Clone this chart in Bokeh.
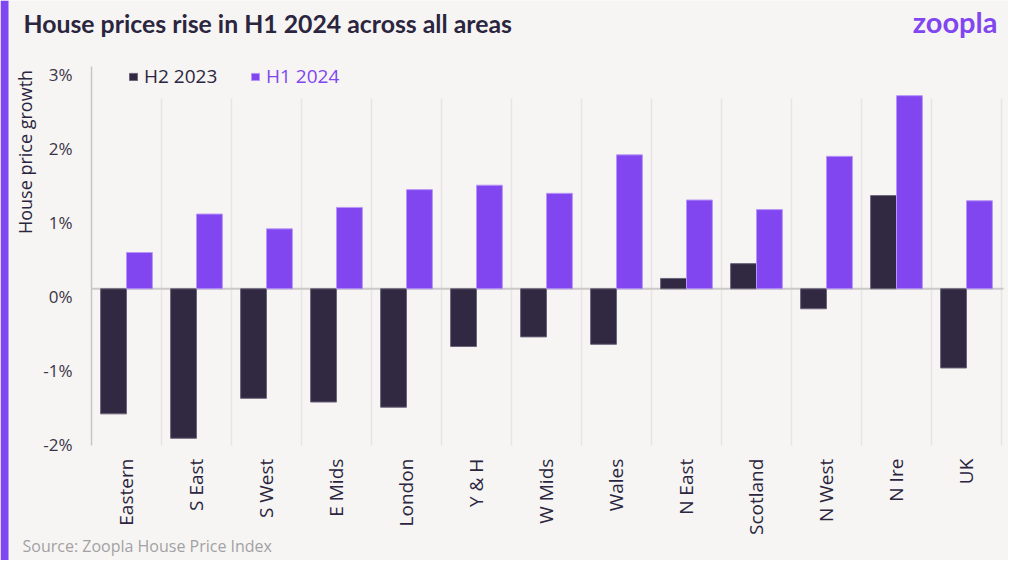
import math
import numpy as np
from bokeh.plotting import figure
from bokeh.models import (ColumnDataSource, Label, Legend, LegendItem,
                          BoxAnnotation, FixedTicker, CustomJSTickFormatter, Range1d)
from bokeh.embed import file_html
from bokeh.resources import INLINE

# ---- data ----
regions = ["Eastern", "S East", "S West", "E Mids", "London", "Y & H", "W Mids",
           "Wales", "N East", "Scotland", "N West", "N Ire", "UK"]
h2_2023 = [-1.69, -2.02, -1.48, -1.53, -1.60, -0.78, -0.65, -0.75, 0.14, 0.34, -0.27, 1.26, -1.07]
h1_2024 = [0.49, 1.01, 0.81, 1.10, 1.34, 1.40, 1.29, 1.81, 1.20, 1.07, 1.79, 2.61, 1.19]
y_ticks = [-2, -1, 0, 1, 2, 3]
title_text = "House prices rise in H1 2024 across all areas"
source_text = "Source: Zoopla House Price Index"
y_label = "House price growth"
series_names = ["H2 2023", "H1 2024"]

BG = "#f6f5f3"
DARK = "#312842"
PURPLE = "#8146f0"
TEXT = "#2b2540"
FONT = "Open Sans"

W, H = 1008, 560
X0 = 91          # canvas x of category axis start
PX_X = 70.0      # px per category
Y0 = 288.3       # canvas y of zero
PX_Y = 74.0      # px per percent
Y_MIN, Y_MAX = -2.12, 3.0
BW = 0.37

idx = np.arange(len(regions)) + 0.5
src = ColumnDataSource(dict(region=regions, xd=idx - BW / 2, xl=idx + BW / 2,
                            h2=h2_2023, h1=h1_2024))

p = figure(width=W, height=H,
           x_range=Range1d(-X0 / PX_X, (W - X0) / PX_X),
           y_range=Range1d(-(H - Y0) / PX_Y, Y0 / PX_Y),
           output_backend="svg", toolbar_location=None, min_border=0)
p.background_fill_color = BG
p.border_fill_color = BG
p.outline_line_color = None
p.xgrid.grid_line_color = None
p.ygrid.grid_line_color = None

# category separators
seps = list(range(1, len(regions) + 1))
p.segment(x0=seps, x1=seps, y0=[2.57] * len(seps), y1=[Y_MIN] * len(seps),
          line_color="#e7e5e3", line_width=1.5)
# zero line
p.segment(x0=[0], x1=[len(regions) + 0.03], y0=[0], y1=[0], line_color="#cbc9c7", line_width=2)

r1 = p.vbar(x="xd", top="h2", width=BW, source=src,
            fill_color=DARK, line_color="#6b657a", line_width=1)
r2 = p.vbar(x="xl", top="h1", width=BW, source=src,
            fill_color=PURPLE, line_color="#b896f6", line_width=1)

# y axis (placed inside the frame at x=0)
offset = 8 / PX_Y
yax = p.yaxis[0]
yax.fixed_location = 0
yax.bounds = (Y_MIN, Y_MAX)
yax.ticker = FixedTicker(ticks=[t - offset for t in y_ticks])
yax.formatter = CustomJSTickFormatter(args=dict(off=offset),
                                      code="return Math.round(tick + off) + '%';")
yax.major_tick_line_color = None
yax.minor_tick_line_color = None
yax.axis_line_color = "#c8c6c4"
yax.axis_line_width = 1.5
yax.major_label_standoff = 13
yax.major_label_text_font = FONT
yax.major_label_text_font_size = "17px"
yax.major_label_text_color = "#3a3447"

xax = p.xaxis[0]
xax.fixed_location = Y_MIN
xax.bounds = (0, len(regions))
xax.ticker = FixedTicker(ticks=list(idx))
xax.formatter = CustomJSTickFormatter(args=dict(names=regions),
                                      code="return names[Math.floor(tick)];")
xax.axis_line_color = None
xax.major_tick_line_color = None
xax.minor_tick_line_color = None
xax.major_label_orientation = math.pi / 2
xax.major_label_standoff = 7
xax.major_label_text_font = FONT
xax.major_label_text_font_size = "19px"
xax.major_label_text_color = TEXT

# legends
for r, name, col, xloc in [(r1, series_names[0], TEXT, 128), (r2, series_names[1], PURPLE, 250)]:
    lg = Legend(items=[LegendItem(label=name, renderers=[r])], location=(xloc, 471),
                orientation="horizontal", padding=0, margin=0, spacing=0,
                glyph_width=10, glyph_height=9, label_height=20, label_standoff=6,
                label_text_font=FONT, label_text_font_size="19px", label_text_color=col,
                background_fill_alpha=0, border_line_alpha=0)
    p.add_layout(lg)

# texts (screen units: x from left, y from bottom of the canvas-sized frame)
p.add_layout(Label(x=23, y=H - 23, x_units="screen", y_units="screen", text=title_text,
                   text_font="Lato", text_font_style="bold", text_font_size="24.8px",
                   text_color=TEXT, text_baseline="middle"))
p.add_layout(Label(x=997, y=H - 21, x_units="screen", y_units="screen", text="zoopla",
                   text_font="Lato", text_font_style="bold", text_font_size="29px",
                   text_color=PURPLE, text_align="right", text_baseline="middle"))
p.add_layout(Label(x=24, y=H - 151.5, x_units="screen", y_units="screen", text=y_label,
                   angle=math.pi / 2, text_font=FONT, text_font_size="18px",
                   text_color=TEXT, text_align="center", text_baseline="middle"))
p.add_layout(Label(x=22, y=H - 545, x_units="screen", y_units="screen", text=source_text,
                   text_font=FONT, text_font_size="16px", text_color="#a3a1a3",
                   text_baseline="middle"))

strip = BoxAnnotation(left=0, right=8, bottom=0, top=H,
                      left_units="screen", right_units="screen",
                      bottom_units="screen", top_units="screen",
                      fill_color="#8046f1", fill_alpha=1, line_color=None)
p.add_layout(strip)

open("out.html", "w").write(file_html(p, INLINE))
